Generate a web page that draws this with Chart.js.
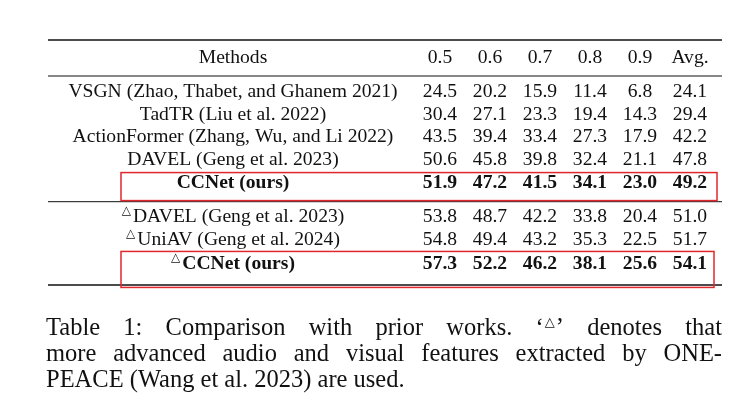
<!DOCTYPE html>
<html>
<head>
<meta charset="utf-8">
<script src="https://cdn.jsdelivr.net/npm/chart.js@4.4.0/dist/chart.umd.min.js"></script>
<style>
  html, body { margin: 0; padding: 0; background: #fff; }
  #wrap { width: 737px; height: 415px; }
</style>
</head>
<body>
<div id="wrap"><canvas id="tbl"></canvas></div>
<script>
const columns = ["0.5", "0.6", "0.7", "0.8", "0.9", "Avg."];
const methods = [
  "VSGN (Zhao, Thabet, and Ghanem 2021)",
  "TadTR (Liu et al. 2022)",
  "ActionFormer (Zhang, Wu, and Li 2022)",
  "DAVEL (Geng et al. 2023)",
  "CCNet (ours)",
  "DAVEL (Geng et al. 2023)",
  "UniAV (Geng et al. 2024)",
  "CCNet (ours)"
];
const advanced = [false, false, false, false, false, true, true, true];
const ours = [false, false, false, false, true, false, false, true];
const scores = [
  [24.5, 20.2, 15.9, 11.4, 6.8, 24.1],
  [30.4, 27.1, 23.3, 19.4, 14.3, 29.4],
  [43.5, 39.4, 33.4, 27.3, 17.9, 42.2],
  [50.6, 45.8, 39.8, 32.4, 21.1, 47.8],
  [51.9, 47.2, 41.5, 34.1, 23.0, 49.2],
  [53.8, 48.7, 42.2, 33.8, 20.4, 51.0],
  [54.8, 49.4, 43.2, 35.3, 22.5, 51.7],
  [57.3, 52.2, 46.2, 38.1, 25.6, 54.1]
];
const caption = [
  ["Table", "1:", "Comparison", "with", "prior", "works.", "\u2018\u25B3\u2019", "denotes", "that"],
  ["more", "advanced", "audio", "and", "visual", "features", "extracted", "by", "ONE-"],
  ["PEACE", "(Wang", "et", "al.", "2023)", "are", "used."]
];

// layout (row positions in y-scale units, 0 = top rule, 10 = bottom rule)
const headerPos = 0.73;
const rowPos = [2.12, 3.04, 3.96, 4.9, 5.84, 7.2, 8.16, 9.12];
const rulePos = [0, 1.47, 6.6, 10];
const methodX = 233;
const serif = "'Liberation Serif', 'DejaVu Serif', serif";
const FS = 19.6;

const points = [];
scores.forEach((row, r) => row.forEach((v, c) => points.push({ x: columns[c], y: rowPos[r], v, r })));

function font(bold, size) { return (bold ? "bold " : "") + size + "px " + serif; }

function drawSup(ctx, text, xCenter, y, bold) {
  ctx.font = font(bold, FS);
  const w = ctx.measureText(text).width;
  ctx.font = font(false, 12);
  const tw = ctx.measureText("\u25B3").width + 2;
  const x0 = xCenter - (w + tw) / 2;
  ctx.textAlign = "left";
  ctx.fillText("\u25B3", x0, y - 6);
  ctx.font = font(bold, FS);
  ctx.fillText(text, x0 + tw, y);
}

// width of a caption word (handles the small superscript triangle)
function wordWidth(ctx, w, size) {
  if (w.indexOf("\u25B3") < 0) { ctx.font = font(false, size); return ctx.measureText(w).width; }
  const parts = w.split("\u25B3");
  ctx.font = font(false, size);
  let s = ctx.measureText(parts[0]).width + ctx.measureText(parts[1]).width;
  ctx.font = font(false, 13);
  return s + ctx.measureText("\u25B3").width + 2;
}

function drawWord(ctx, w, x, y, size) {
  if (w.indexOf("\u25B3") < 0) { ctx.font = font(false, size); ctx.fillText(w, x, y); return; }
  const parts = w.split("\u25B3");
  ctx.font = font(false, size);
  ctx.fillText(parts[0], x, y);
  let xx = x + ctx.measureText(parts[0]).width + 1;
  ctx.font = font(false, 13);
  ctx.fillText("\u25B3", xx, y - 9);
  xx += ctx.measureText("\u25B3").width + 1;
  ctx.font = font(false, size);
  ctx.fillText(parts[1], xx, y);
}

const tablePlugin = {
  id: "tablePlugin",
  afterDraw(chart) {
    const ctx = chart.ctx;
    const xs = chart.scales.x, ys = chart.scales.y;
    ctx.save();
    ctx.fillStyle = "#111";
    ctx.textBaseline = "middle";

    // rules
    ctx.strokeStyle = "#111";
    rulePos.forEach((p, i) => {
      const y = ys.getPixelForValue(p);
      ctx.lineWidth = (i === 0 || i === 3) ? 1.6 : 1;
      ctx.beginPath(); ctx.moveTo(48, y); ctx.lineTo(722, y); ctx.stroke();
    });

    // header
    const hy = ys.getPixelForValue(headerPos);
    ctx.font = font(false, FS);
    ctx.textAlign = "center";
    ctx.fillText("Methods", methodX, hy);
    columns.forEach((c, i) => ctx.fillText(c, xs.getPixelForValue(i), hy));

    // method names
    methods.forEach((m, r) => {
      const y = ys.getPixelForValue(rowPos[r]);
      if (advanced[r]) drawSup(ctx, m, methodX, y, ours[r]);
      else {
        ctx.font = font(ours[r], FS);
        ctx.textAlign = "center";
        ctx.fillText(m, methodX, y);
      }
    });

    // values
    ctx.textAlign = "center";
    points.forEach(p => {
      ctx.font = font(ours[p.r], FS);
      ctx.fillText(p.v.toFixed(1), xs.getPixelForValue(columns.indexOf(p.x)), ys.getPixelForValue(p.y));
    });

    // red boxes around our rows
    ctx.strokeStyle = "#e3262b";
    ctx.lineWidth = 1.5;
    ctx.strokeRect(121, ys.getPixelForValue(rowPos[4]) - 10.5, 596, 28);
    ctx.strokeRect(121, ys.getPixelForValue(rowPos[7]) - 12, 593, 36);

    // caption, justified
    const CS = 24.5;
    ctx.textAlign = "left";
    ctx.textBaseline = "alphabetic";
    const left = 46, right = 722;
    caption.forEach((words, i) => {
      const y = 335 + i * 26;
      const widths = words.map(w => wordWidth(ctx, w, CS));
      const total = widths.reduce((s, w) => s + w, 0);
      ctx.font = font(false, CS);
      const gap = i === caption.length - 1 ? ctx.measureText(" ").width
        : (right - left - total) / (words.length - 1);
      let x = left;
      words.forEach((w, k) => { drawWord(ctx, w, x, y, CS); x += widths[k] + gap; });
    });
    ctx.restore();
  }
};

new Chart(document.getElementById("tbl").getContext("2d"), {
  type: "scatter",
  data: { datasets: [{ data: points.map(p => ({ x: columns.indexOf(p.x), y: p.y })), pointRadius: 0 }] },
  options: {
    responsive: true,
    maintainAspectRatio: false,
    animation: false,
    layout: { padding: { left: 415, right: 22, top: 40, bottom: 130 } },
    plugins: { legend: { display: false }, tooltip: { enabled: false } },
    scales: {
      x: { type: "linear", min: -0.5, max: 5.5, display: false },
      y: { type: "linear", min: 0, max: 10, reverse: true, display: false }
    }
  },
  plugins: [tablePlugin]
});
</script>
</body>
</html>
